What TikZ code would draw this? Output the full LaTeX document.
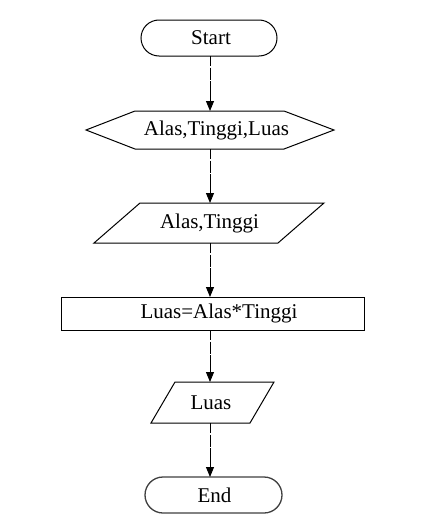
\documentclass[tikz,border=0pt]{standalone}
\usepackage{fontspec}
\setmainfont{Liberation Serif}
\usetikzlibrary{arrows.meta}
\begin{document}
\begin{tikzpicture}[x=1pt,y=-1pt,
  shapeline/.style={draw=black,line width=1pt,fill=white},
  label/.style={font=\fontsize{21}{24}\selectfont,inner sep=0pt,anchor=center},
  flow/.style={draw=black,line width=1pt,-{Triangle[length=10pt,width=8pt]},
    dash pattern=on 10pt off 1.5pt on 12pt off 1.5pt on 60pt off 0pt}]
\useasboundingbox[fill=white] (0,0) rectangle (429,522);
% Start
\draw[shapeline,rounded corners=18pt] (141,20) rectangle (277,56);
\node[label] (start) at (211,38) {Start};
\coordinate (startB) at (210,56);
% Hexagon
\draw[shapeline] (86,130)--(135,111)--(284,111)--(334,130)--(284,149)--(135,149)--cycle;
\node[label] (prep) at (216.5,130) {Alas,Tinggi,Luas};
\coordinate (prepT) at (210,111);
\coordinate (prepB) at (210,149);
% Input
\draw[shapeline] (140,203)--(324,203)--(278,243)--(94,243)--cycle;
\node[label] (input) at (209.5,223) {Alas,Tinggi};
\coordinate (inputT) at (210,203);
\coordinate (inputB) at (210,243);
% Process
\draw[shapeline] (61,297) rectangle (364,330);
\node[label] (proc) at (219,313.5) {Luas=Alas*Tinggi};
\coordinate (procT) at (210,297);
\coordinate (procB) at (210,330);
% Output
\draw[shapeline] (175,382)--(274,382)--(250,423)--(151,423)--cycle;
\node[label] (output) at (211,402.5) {Luas};
\coordinate (outputT) at (210,382);
\coordinate (outputB) at (210,423);
% End
\draw[shapeline,draw=black!75,line width=1.3pt,rounded corners=18pt] (145,477) rectangle (282,513);
\node[label] (end) at (214.5,495) {End};
\coordinate (endT) at (210,477);
% Connectors
\draw[flow] (startB) -- (prepT);
\draw[flow] (prepB) -- (inputT);
\draw[flow] (inputB) -- (procT);
\draw[flow] (procB) -- (outputT);
\draw[flow] (outputB) -- (endT);
\end{tikzpicture}
\end{document}
